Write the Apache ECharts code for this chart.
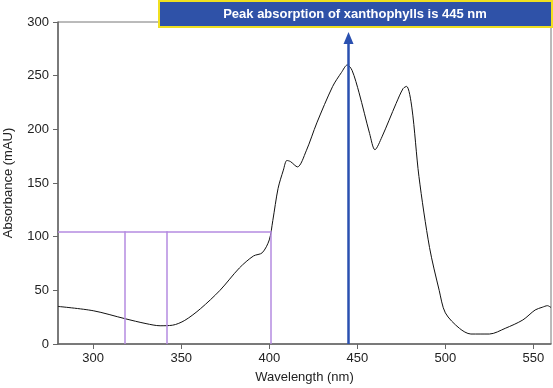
<!DOCTYPE html>
<html>
<head>
<meta charset="utf-8">
<script src="https://cdn.jsdelivr.net/npm/echarts@6/dist/echarts.min.js"></script>
<style>
  html, body { margin: 0; padding: 0; background: #fff; }
  #chart { width: 553px; height: 388px; }
</style>
</head>
<body>
<div id="chart"></div>
<script>
// spectrum
const wavelength = [280, 300, 318, 330, 338, 345, 352, 361, 372, 383, 391, 396, 400, 402, 405, 408, 410, 412, 416, 421, 427, 436, 441, 444.3, 447, 451, 457, 460, 464, 472, 476, 478, 481, 485, 491, 496.5, 500, 508, 514.5, 525, 534, 544, 551, 555, 558, 560]
const absorbance = [35, 31, 23.6, 19, 17, 17.5, 22, 33, 50, 70.8, 82, 85, 97, 115, 145, 162, 171, 170, 165, 180, 206, 240, 253, 260, 255, 234, 196, 181, 193, 224, 238, 240, 220, 156, 90, 50, 29, 14.6, 9.3, 9.3, 14.6, 22.4, 31.7, 34.2, 35.7, 34]

const xTicks = [300, 350, 400, 450, 500, 550]

const peakNm = 445
const arrowTop = 285
const guideLevel = 105
const guideX = [318, 342, 401]

const titleText = 'Peak absorption of xanthophylls is 445 nm'

const chart = echarts.init(document.getElementById('chart'))

const purple = '#b58be0'
const font = 'Liberation Sans, Arial, sans-serif'
const guideLines = [
  [{ coord: [280, guideLevel] }, { coord: [guideX[2], guideLevel] }]
]
guideX.forEach(x => {
  guideLines.push([{ coord: [x, 0] }, { coord: [x, guideLevel] }])
})

chart.setOption({
  animation: false,
  textStyle: { fontFamily: font },
  grid: {
    left: 58, right: 2, top: 22, bottom: 44,
    outerBoundsMode: 'none',
    containLabel: false,
    show: true, borderColor: '#777', borderWidth: 1
  },
  xAxis: {
    type: 'value',
    min: 280, max: 560, interval: 10,
    name: 'Wavelength (nm)',
    nameLocation: 'middle',
    nameGap: 27,
    nameTextStyle: { fontSize: 13, color: '#222' },
    axisLine: { lineStyle: { color: '#666', width: 1.5 } },
    axisTick: { length: 5, lineStyle: { color: '#666' }, customValues: xTicks },
    axisLabel: { fontSize: 13, color: '#222', margin: 8, customValues: xTicks },
    splitLine: { show: false }
  },
  yAxis: {
    type: 'value',
    min: 0, max: 300, interval: 50,
    name: 'Absorbance (mAU)',
    nameLocation: 'middle',
    nameGap: 43,
    nameTextStyle: { fontSize: 13, color: '#222' },
    axisLine: { show: true, lineStyle: { color: '#666', width: 1.5 } },
    axisTick: { show: true, length: 5, lineStyle: { color: '#666' } },
    axisLabel: { fontSize: 13, color: '#222', margin: 9 },
    splitLine: { show: false }
  },
  graphic: [{
    type: 'group',
    left: 158, top: 0,
    children: [{
      type: 'rect',
      shape: { x: 0, y: 0, width: 393, height: 26 },
      style: { fill: '#2f52a8', stroke: '#f0e020', lineWidth: 2 }
    }, {
      type: 'text',
      x: 196, y: 13,
      style: {
        text: titleText, fill: '#fff', fontWeight: 'bold', fontSize: 13,
        fontFamily: font,
        align: 'center', verticalAlign: 'middle'
      }
    }]
  }],
  series: [{
    type: 'line',
    data: wavelength.map((w, i) => [w, absorbance[i]]),
    smooth: 0.3,
    showSymbol: false,
    lineStyle: { color: '#111', width: 1 },
    z: 3,
    markLine: {
      silent: true,
      symbol: 'none',
      label: { show: false },
      lineStyle: { color: purple, width: 1.5, type: 'solid' },
      data: guideLines
    }
  }, {
    type: 'line',
    data: [],
    z: 4,
    markLine: {
      silent: true,
      symbol: ['none', 'triangle'],
      symbolSize: [10, 12],
      label: { show: false },
      lineStyle: { color: '#2a50b0', width: 2.5, type: 'solid' },
      data: [[{ coord: [peakNm, 0] }, { coord: [peakNm, arrowTop] }]]
    }
  }]
})
</script>
</body>
</html>
